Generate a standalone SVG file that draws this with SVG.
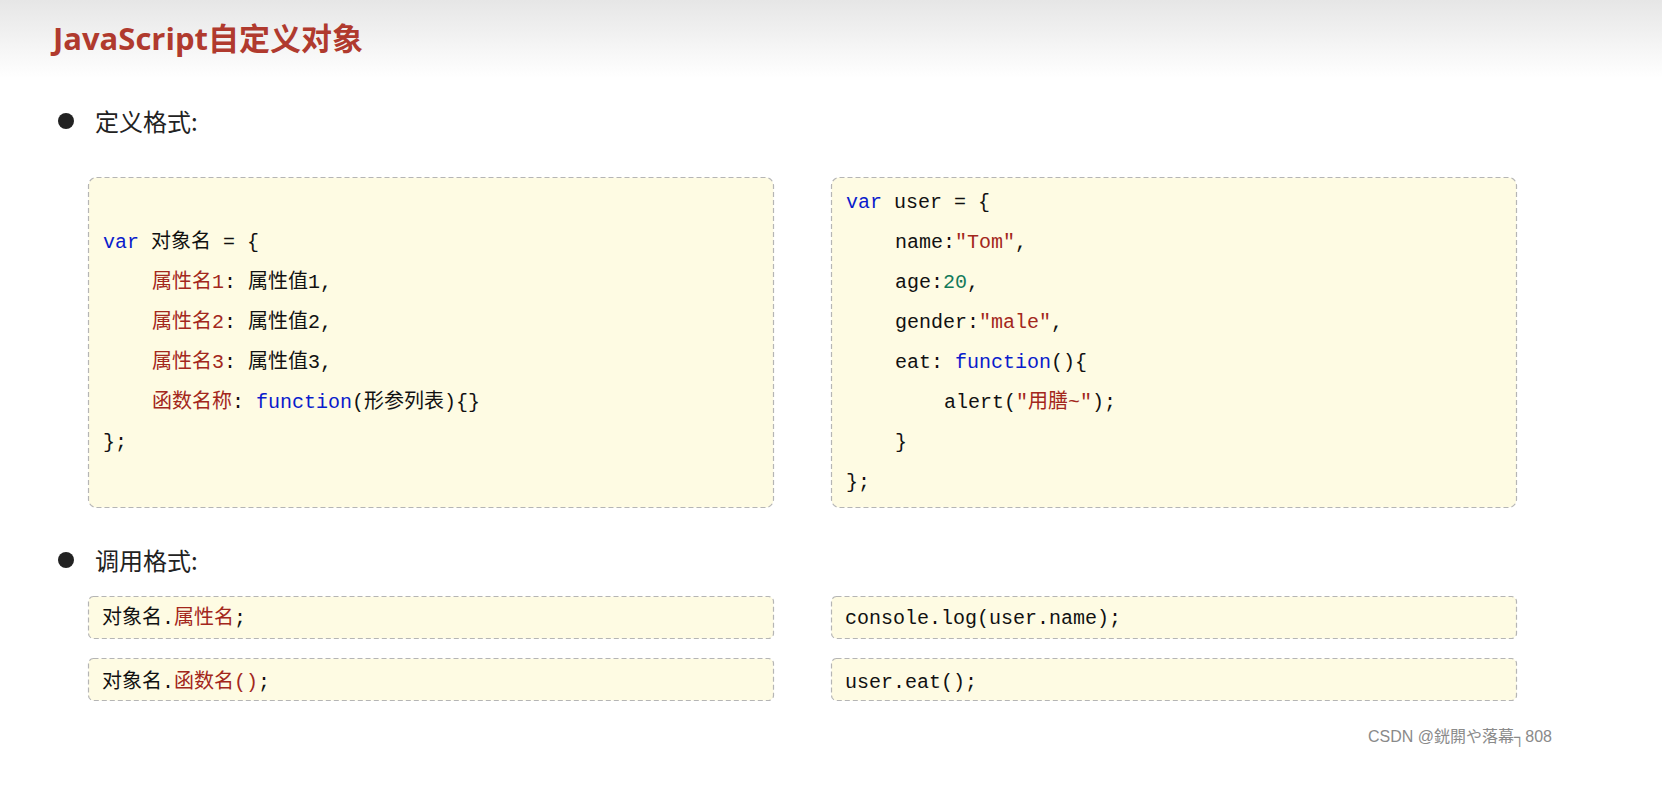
<svg xmlns="http://www.w3.org/2000/svg" width="1662" height="799" viewBox="0 0 1662 799">
<defs>
<linearGradient id="hg" x1="0" y1="0" x2="0" y2="1"><stop offset="0" stop-color="#e6e6e6"/><stop offset="1" stop-color="#ffffff"/></linearGradient>
</defs>
<style>
.box{fill:#fefbe3;stroke:#b5b5b5;stroke-width:1.2;stroke-dasharray:5,3}
.code{font-family:"Liberation Mono","Noto Sans CJK SC",monospace;font-size:20px;fill:#111}
.k{fill:#0a1ccc}.s{fill:#a3271c}.n{fill:#127a5a}
.h{font-family:"Noto Sans CJK SC",sans-serif;font-size:24px;fill:#222}
</style>
<rect width="1662" height="799" fill="#fff"/>
<rect width="1662" height="78" fill="url(#hg)"/>
<text x="53" y="50" font-family="'Open Sans','Noto Sans CJK SC',sans-serif" font-size="31" font-weight="bold" fill="#b03a2e">JavaScript自定义对象</text>
<g id="b1"><circle cx="66" cy="121" r="8" fill="#222"/><text class="h" x="95" y="131">定义格式:</text></g>
<g id="b2"><circle cx="66" cy="560" r="8" fill="#222"/><text class="h" x="95" y="570">调用格式:</text></g>
<g id="def-left"><rect class="box" x="88.5" y="177.5" width="685" height="330" rx="8"/>
<text class="code" x="103" y="248"><tspan class="k">var</tspan> 对象名 = {</text>
<text class="code" x="152" y="288"><tspan class="s">属性名1</tspan>: 属性值1,</text>
<text class="code" x="152" y="328"><tspan class="s">属性名2</tspan>: 属性值2,</text>
<text class="code" x="152" y="368"><tspan class="s">属性名3</tspan>: 属性值3,</text>
<text class="code" x="152" y="408"><tspan class="s">函数名称</tspan>: <tspan class="k">function</tspan>(形参列表){}</text>
<text class="code" x="103" y="448">};</text></g>
<g id="def-right"><rect class="box" x="831.5" y="177.5" width="685" height="330" rx="8"/>
<text class="code" x="846" y="208"><tspan class="k">var</tspan> user = {</text>
<text class="code" x="895" y="248">name:<tspan class="s">"Tom"</tspan>,</text>
<text class="code" x="895" y="288">age:<tspan class="n">20</tspan>,</text>
<text class="code" x="895" y="328">gender:<tspan class="s">"male"</tspan>,</text>
<text class="code" x="895" y="368">eat: <tspan class="k">function</tspan>(){</text>
<text class="code" x="944" y="408">alert(<tspan class="s">"用膳~"</tspan>);</text>
<text class="code" x="895" y="448">}</text>
<text class="code" x="846" y="488">};</text></g>
<g id="call1"><rect class="box" x="88.5" y="596.5" width="685" height="42" rx="5"/><text class="code" x="102" y="624">对象名.<tspan class="s">属性名</tspan>;</text></g>
<g id="call2"><rect class="box" x="88.5" y="658.5" width="685" height="42" rx="5"/><text class="code" x="102" y="688">对象名.<tspan class="s">函数名()</tspan>;</text></g>
<g id="call3"><rect class="box" x="831.5" y="596.5" width="685" height="42" rx="5"/><text class="code" x="845" y="624">console.log(user.name);</text></g>
<g id="call4"><rect class="box" x="831.5" y="658.5" width="685" height="42" rx="5"/><text class="code" x="845" y="688">user.eat();</text></g>
<g id="connectors"/>
<text x="1552" y="742" text-anchor="end" font-family="'Liberation Sans','Noto Sans CJK SC',sans-serif" font-size="16" fill="#8a8a8a">CSDN @銧閞や落幕┐808</text>
</svg>
